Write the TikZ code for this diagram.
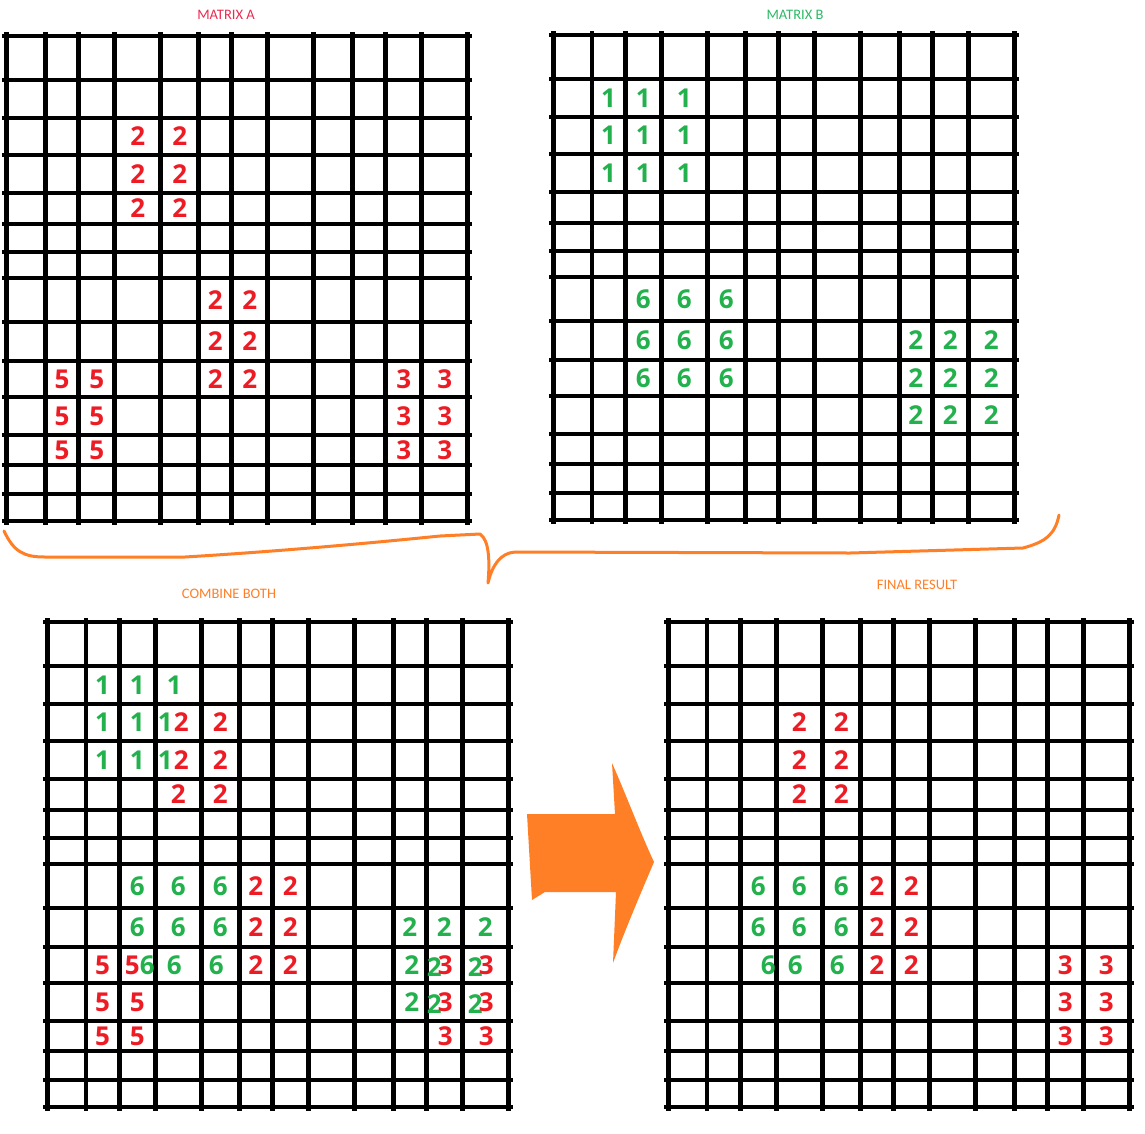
\documentclass[tikz,border=0pt]{standalone}
\usepackage{fontspec}
\setmainfont{Carlito}
\newfontfamily\digitfont{Open Sans}
\definecolor{pred}{HTML}{ED1C24}
\definecolor{pgreen}{HTML}{22B14C}
\definecolor{porange}{HTML}{FF7F27}
\definecolor{lblred}{HTML}{EC2A50}
\definecolor{lblgreen}{HTML}{2CBA66}
\def\colc{{19.3,55.3,90,131,173,208.5,243,284,326.5,362.5,397,438}}
\def\rowc{{22,63,100.5,138,172.5,202,229,264,305.5,343,380,414,443.5,471.5}}
\newcommand\drawgrid[2]{%
  \begin{scope}[shift={(#1,#2)}]
    \foreach \cx in {0,38.7,72,108,154,192,225,261,307,346,379,415,461}
      \draw[gridline] (\cx,-2) -- (\cx,487);
    \foreach \ry in {0,44,82,119,157,188,216,242,286,325,361,399,429,458,485}
      \draw[gridline] (-2,\ry) -- (463,\ry);
  \end{scope}}
% style, prefix, gx, gy, rows, cols, dx, dy, digit
\newcommand\blk[9]{%
  \foreach \rr in {#5} {\foreach \cc in {#6} {%
    \pgfmathsetmacro\px{#3+\colc[\cc]+#7}%
    \pgfmathsetmacro\py{#4+\rowc[\rr]+#8}%
    \node[#1] (#2-\rr-\cc) at (\px,\py) {#9};}}}
\begin{document}
\begin{tikzpicture}[x=1pt,y=-1pt,
  gridline/.style={line width=4.8pt,black,line cap=rect},
  rd/.style={text=pred,font=\digitfont\bfseries\fontsize{26}{26}\selectfont,inner sep=0pt},
  gd/.style={text=pgreen,font=\digitfont\bfseries\fontsize{26}{26}\selectfont,inner sep=0pt},
  lbl/.style={font=\fontsize{14.5}{14.5}\selectfont,inner sep=0pt},
  orangeline/.style={draw=porange,line width=3pt,line join=round,line cap=round}]
\useasboundingbox (0,0) rectangle (1145,1133);
\fill[white] (0,0) rectangle (1145,1133);
% titles
\node[lbl,text=lblred] (tA) at (226,15) {MATRIX A};
\node[lbl,text=lblgreen] (tB) at (795,15) {MATRIX B};
\node[lbl,text=porange] (tC) at (229,594) {COMBINE BOTH};
\node[lbl,text=porange] (tF) at (917,585) {FINAL RESULT};
% grids
\drawgrid{6.7}{36}
\drawgrid{553.3}{35}
\drawgrid{47.3}{622}
\drawgrid{668.3}{622}
% Matrix A
\blk{rd}{Aa}{6.7}{36}{2,3,4}{3,4}{0}{0}{2}
\blk{rd}{Ab}{6.7}{36}{7,8,9}{5,6}{0}{0}{2}
\blk{rd}{Ac}{6.7}{36}{9,10,11}{1,2}{0}{0}{5}
\blk{rd}{Ad}{6.7}{36}{9,10,11}{10,11}{0}{0}{3}
% Matrix B
\blk{gd}{Ba}{553.3}{35}{1,2,3}{1,2,3}{0}{0}{1}
\blk{gd}{Bb}{553.3}{35}{7,8,9}{2,3,4}{0}{0}{6}
\blk{gd}{Bc}{553.3}{35}{8,9,10}{9,10,11}{0}{0}{2}
% Combined
\blk{gd}{Ca}{47.3}{622}{1,2,3}{1,2}{0}{0}{1}
\blk{gd}{Cb}{47.3}{622}{1}{3}{-4}{0}{1}
\blk{gd}{Cc}{47.3}{622}{2,3}{3}{-13}{0}{1}
\blk{rd}{Cd}{47.3}{622}{2,3}{3}{3}{0}{2}
\blk{rd}{Ce}{47.3}{622}{4}{3}{0}{0}{2}
\blk{rd}{Cf}{47.3}{622}{2,3,4}{4}{0}{0}{2}
\blk{gd}{Cg}{47.3}{622}{7,8}{2,3,4}{0}{0}{6}
\blk{gd}{Ch}{47.3}{622}{9}{3,4}{-4}{0}{6}
\blk{rd}{Ci}{47.3}{622}{7,8,9}{5,6}{0}{0}{2}
\blk{rd}{Cj}{47.3}{622}{9,10,11}{1}{0}{0}{5}
\blk{rd}{Ck}{47.3}{622}{9}{2}{-5}{0}{5}
\blk{gd}{Cl}{47.3}{622}{9}{2}{10}{0}{6}
\blk{rd}{Cm}{47.3}{622}{10,11}{2}{0}{0}{5}
\blk{gd}{Cn}{47.3}{622}{8}{9,10,11}{0}{0}{2}
\blk{gd}{Co}{47.3}{622}{9,10}{9}{2}{0}{2}
\blk{gd}{Cp}{47.3}{622}{9,10}{10,11}{-10}{2}{2}
\blk{rd}{Cq}{47.3}{622}{9,10,11}{10,11}{1}{0}{3}
% Final
\blk{rd}{Fa}{668.3}{622}{2,3,4}{3,4}{0}{0}{2}
\blk{gd}{Fb}{668.3}{622}{7,8}{2,3,4}{0}{0}{6}
\blk{gd}{Fc}{668.3}{622}{9}{2}{10}{0}{6}
\blk{gd}{Fd}{668.3}{622}{9}{3,4}{-4}{0}{6}
\blk{rd}{Fe}{668.3}{622}{7,8,9}{5,6}{0}{0}{2}
\blk{rd}{Ff}{668.3}{622}{9,10,11}{10,11}{0}{0}{3}
% brace
\draw[orangeline] (4,531) .. controls (14,552) and (24,557) .. (45,557)
  -- (185,557) .. controls (300,550) and (400,540) .. (440,536)
  -- (480,534) .. controls (489,540) and (490,560) .. (488,583)
  .. controls (492,566) and (500,553) .. (515,552)
  -- (850,553) -- (1023,548) .. controls (1045,542) and (1055,535) .. (1059,515);
% block arrow
\fill[porange] (527,814) -- (615,814) -- (612,763)
  .. controls (625,792) and (640,832) .. (654,862)
  .. controls (640,895) and (625,930) .. (613,963)
  -- (616,892) -- (545,892) -- (532,900) -- cycle;
\end{tikzpicture}
\end{document}
